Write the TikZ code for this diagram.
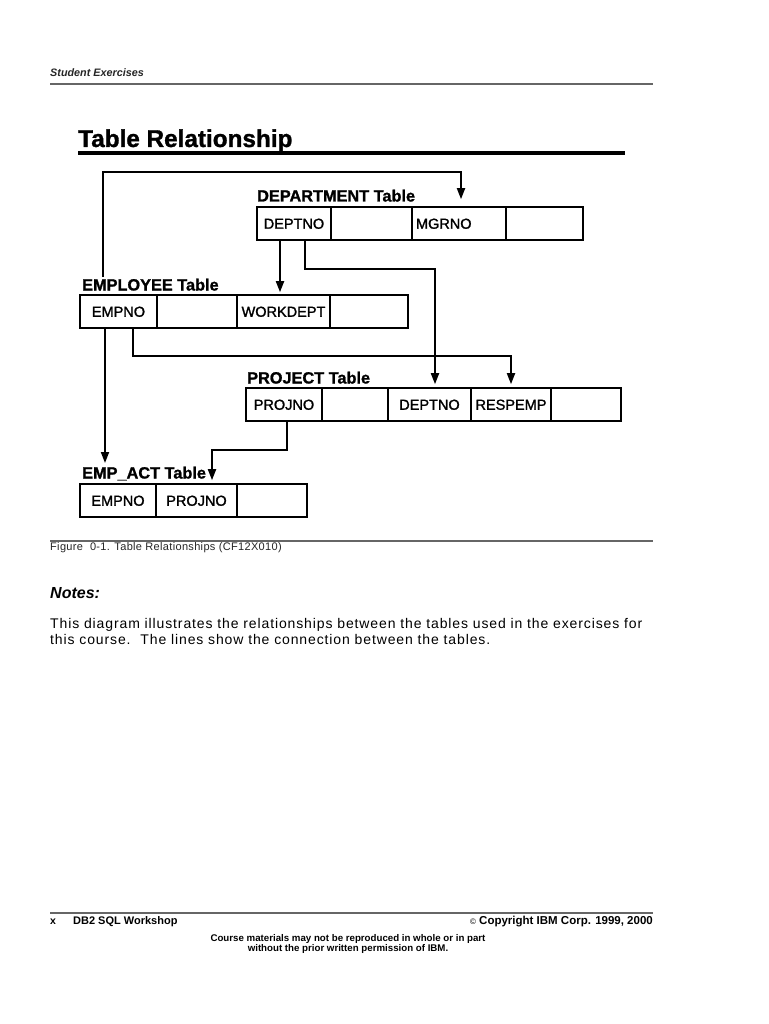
\documentclass[tikz,border=0pt]{standalone}
\usepackage{fontspec}
\setmainfont{Liberation Sans}
\newfontfamily\cellfont[FakeBold=1.5]{Liberation Sans}
\newfontfamily\heavyfont[FakeBold=1.2]{Liberation Sans}
\newfontfamily\bodyfont[LetterSpace=6.3]{Liberation Sans}
\newfontfamily\capfont[LetterSpace=3]{Liberation Sans}
\usetikzlibrary{arrows.meta}
\tikzset{
  cell/.style={draw, line width=1.6pt, minimum height=33pt, inner sep=0pt,
    font=\cellfont\fontsize{14.5}{16}\selectfont, text height=10.5pt, text depth=0pt},
  tlabel/.style={anchor=base west, inner sep=0pt, font=\heavyfont\bfseries\fontsize{16.3}{18}\selectfont},
  txt/.style={anchor=base west, inner sep=0pt},
  conn/.style={line width=1.8pt},
  arr/.style={conn, -{Triangle[length=11pt,width=8pt]}},
  rule/.style={line width=1.8pt, draw=black!60}
}
\begin{document}
\begin{tikzpicture}[x=1pt,y=-1pt]
\useasboundingbox (0,0) rectangle (768,1024);
\fill[white] (0,0) rectangle (768,1024);

% header
\node[txt, font=\bfseries\itshape\fontsize{10.8}{12}\selectfont, text=black!85] (hdr) at (50,77) {Student Exercises};
\draw[rule] (50,84) -- (653,84);

% title
\node[txt, font=\heavyfont\bfseries\fontsize{24.3}{28}\selectfont] (title) at (78,147) {Table Relationship};
\draw[line width=4pt] (78,153) -- (625,153);

% DEPARTMENT table
\node[tlabel] (dlab) at (257,201.5) {DEPARTMENT Table};
\node[cell, minimum width=74pt] (d1) at (294,223.5) {DEPTNO};
\node[cell, minimum width=81pt] (d2) at (371.5,223.5) {};
\node[cell, text width=86pt, inner xsep=4pt, align=left] (d3) at (459,223.5) {MGRNO};
\node[cell, minimum width=77pt] (d4) at (544.5,223.5) {};

% EMPLOYEE table
\node[tlabel] (elab) at (82,290.5) {EMPLOYEE Table};
\node[cell, minimum width=77pt] (e1) at (118.5,311.5) {EMPNO};
\node[cell, minimum width=80pt] (e2) at (197,311.5) {};
\node[cell, minimum width=93pt] (e3) at (283.5,311.5) {WORKDEPT};
\node[cell, minimum width=78pt] (e4) at (369,311.5) {};

% PROJECT table
\node[tlabel] (plab) at (247,383.5) {PROJECT Table};
\node[cell, minimum width=76pt] (p1) at (284,404.5) {PROJNO};
\node[cell, minimum width=66pt] (p2) at (355,404.5) {};
\node[cell, minimum width=83pt] (p3) at (429.5,404.5) {DEPTNO};
\node[cell, minimum width=80pt] (p4) at (511,404.5) {RESPEMP};
\node[cell, minimum width=70pt] (p5) at (586,404.5) {};

% EMP_ACT table
\node[tlabel] (alab) at (82,478.5) {EMP\_ACT Table};
\node[cell, minimum width=76pt] (a1) at (118,500.5) {EMPNO};
\node[cell, minimum width=81pt] (a2) at (196.5,500.5) {PROJNO};
\node[cell, minimum width=70pt] (a3) at (272,500.5) {};

% connectors
\coordinate (l1s) at (103,277);
\draw[arr] (l1s) |- ([shift={(2,-34)}]d3.north) -- ([shift={(2,-7)}]d3.north);
\draw[arr] ([shift={(-14,0)}]d1.south) -- ([shift={(-3.5,-2)}]e3.north);
\draw[arr] ([shift={(11,0)}]d1.south) -- ++(0,28) -| ([shift={(5.5,-3)}]p3.north);
\draw[arr] ([shift={(14.5,0)}]e1.south) -- ++(0,27) -| ([shift={(0,-3)}]p4.north);
\coordinate (l5e) at (105,463);
\draw[arr] ([shift={(-13.5,0)}]e1.south) -- (l5e);
\draw[arr] ([shift={(3,0)}]p1.south) -- ++(0,28) -| ([shift={(15.5,-3)}]a2.north);

% caption
\draw[rule] (50,541) -- (653,541);
\node[txt, font=\capfont\fontsize{11}{13}\selectfont, text=black!85] (cap) at (50,550) {Figure\hspace{7pt}0-1. Table Relationships (CF12X010)};

% notes
\node[txt, font=\bfseries\itshape\fontsize{16}{18}\selectfont] (notes) at (50,598) {Notes:};
\node[txt, font=\bodyfont\fontsize{14}{16}\selectfont] (para1) at (50,628) {This diagram illustrates the relationships between the tables used in the exercises for};
\node[txt, font=\bodyfont\fontsize{14}{16}\selectfont] (para2) at (50,644) {this course.\hspace{0.25em} The lines show the connection between the tables.};

% footer
\draw[rule] (50,913) -- (653,913);
\node[txt, font=\bfseries\fontsize{10.5}{12}\selectfont] (fx) at (50,924) {x};
\node[txt, font=\bfseries\fontsize{11}{12}\selectfont] (fdb) at (73,924) {DB2 SQL Workshop};
\node[anchor=base east, inner sep=0pt, font=\bfseries\fontsize{11.5}{12}\selectfont] (fcopy) at (653,924) {{\mdseries\fontsize{8}{9}\selectfont\textcopyright}\ Copyright IBM Corp. 1999, 2000};
\node[anchor=base, inner sep=0pt, font=\bfseries\fontsize{9.7}{11}\selectfont] (fc1) at (348,941) {Course materials may not be reproduced in whole or in part};
\node[anchor=base, inner sep=0pt, font=\bfseries\fontsize{9.7}{11}\selectfont] (fc2) at (348,951) {without the prior written permission of IBM.};
\end{tikzpicture}
\end{document}
